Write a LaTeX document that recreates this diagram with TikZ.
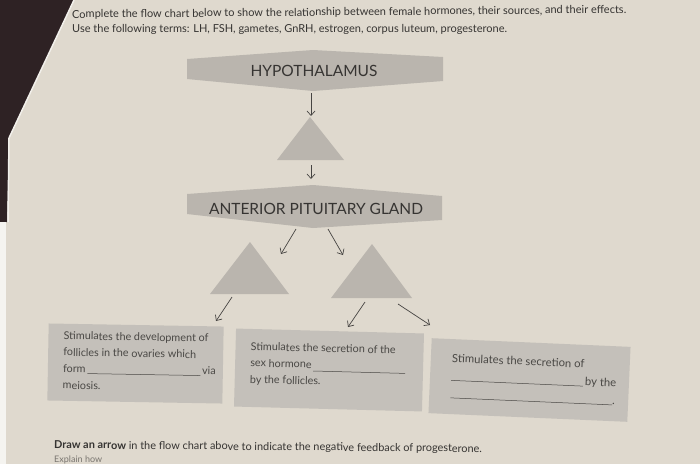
\documentclass[tikz,border=0pt]{standalone}
\usepackage{fontspec}
\setmainfont{Lato}
\usetikzlibrary{arrows.meta}
\definecolor{paper}{HTML}{DFD9CE}
\definecolor{darkbg}{HTML}{2E2224}
\definecolor{shapegrey}{HTML}{BAB5AE}
\definecolor{boxgrey}{HTML}{C4C0BA}
\definecolor{ink}{HTML}{363432}
\definecolor{boxink}{HTML}{4A4845}
\definecolor{pen}{HTML}{464442}
\begin{document}
\begin{tikzpicture}[x=1pt,y=-1pt,
  bigtext/.style={font=\fontsize{15.5}{18}\selectfont, text=ink, inner sep=0pt},
  small/.style={font=\fontsize{11}{13}\selectfont, text=ink, inner sep=0pt, anchor=west},
  boxtext/.style={font=\fontsize{10.8}{16.5}\selectfont, text=boxink, inner sep=0pt, anchor=north west, align=left},
  box/.style={fill=boxgrey, minimum width=#1, inner sep=0pt},
  penarrow/.style={draw=pen, line width=0.7pt, -{Straight Barb[length=4.5pt,width=8pt]}}]
\useasboundingbox (0,0) rectangle (700,464);
\fill[paper] (0,0) rectangle (700,464);
% dark background corner of the photo
\fill[darkbg] (0,0) -- (74,0) -- (9,138) -- (7,222) -- (0,222) -- cycle;
\draw[white!60!paper, line width=1.5pt] (74,0) -- (9,138) -- (8,222);
\fill[white!70!paper] (0,222) rectangle (6,464);

% title
\node[small, rotate=0.5] (t1) at (72,15) {Complete the flow chart below to show the relationship between female hormones, their sources, and their effects.};
\node[small] (t2) at (72,29) {Use the following terms: LH, FSH, gametes, GnRH, estrogen, corpus luteum, progesterone.};

% hexagon bars
\fill[shapegrey] (187,59) -- (313,50) -- (443,57) -- (443,81) -- (313,91) -- (187,79) -- cycle;
\node[bigtext] (hypo) at (314,71) {HYPOTHALAMUS};
\fill[shapegrey] (187,194) -- (313,185) -- (442,196) -- (442,220) -- (313,228) -- (187,214) -- cycle;
\node[bigtext] (ap) at (316,209) {ANTERIOR PITUITARY GLAND};

% triangles
\fill[shapegrey] (310,117) -- (344,160) -- (277,160) -- cycle;
\fill[shapegrey] (250,242) -- (289,294) -- (210,294) -- cycle;
\fill[shapegrey] (372,244) -- (412,298) -- (331,298) -- cycle;

% arrow end points
\coordinate (a1s) at (311,93);  \coordinate (a1e) at (311,116);
\coordinate (a2s) at (311,165); \coordinate (a2e) at (311,179);
\coordinate (a3s) at (296,229); \coordinate (a3e) at (281,254);
\coordinate (a4s) at (328,229); \coordinate (a4e) at (343,255);
\coordinate (a5s) at (232,297); \coordinate (a5e) at (216,321);
\coordinate (a6s) at (365,302); \coordinate (a6e) at (348,327);
\coordinate (a7s) at (398,304); \coordinate (a7e) at (430,325);
\foreach \i in {1,...,7} {\draw[penarrow] (a\i s) -- (a\i e);}

% box 1
\begin{scope}[shift={(135.5,363.5)}, rotate=-1, transform shape]
  \node[box=175pt, minimum height=77pt] (box1) at (0,0) {};
  \node[boxtext] (b1t) at (-72.5,-31) {Stimulates the development of\\
    follicles in the ovaries which\\
    form\,\rule[-1pt]{113pt}{0.5pt}\,via\\
    meiosis.};
\end{scope}

% box 2
\begin{scope}[shift={(329,370)}, rotate=-1.5, transform shape]
  \node[box=188pt, minimum height=78pt] (box2) at (0,0) {};
  \node[boxtext] (b2t) at (-79,-26) {Stimulates the secretion of the\\
    sex hormone\,\rule[-3pt]{92pt}{0.5pt}\\
    by the follicles.};
\end{scope}

% box 3
\begin{scope}[shift={(529.5,380)}, rotate=-2.5, transform shape]
  \node[box=199pt, minimum height=75pt] (box3) at (0,0) {};
  \node[boxtext, font=\fontsize{11.3}{17.5}\selectfont] (b3t) at (-78.5,-23) {Stimulates the secretion of\\
    \rule[-1pt]{132pt}{0.5pt}\,by the\\
    \rule[-1pt]{162pt}{0.5pt}.};
\end{scope}

% bottom text
\node[small, font=\fontsize{10.9}{13}\selectfont, rotate=-0.5] (q2) at (54,445.5) {\textbf{Draw an arrow} in the flow chart above to indicate the negative feedback of progesterone.};
\node[small, font=\fontsize{9}{11}\selectfont, text=ink!60!paper] (q3) at (54,460) {Explain how};
\end{tikzpicture}
\end{document}
